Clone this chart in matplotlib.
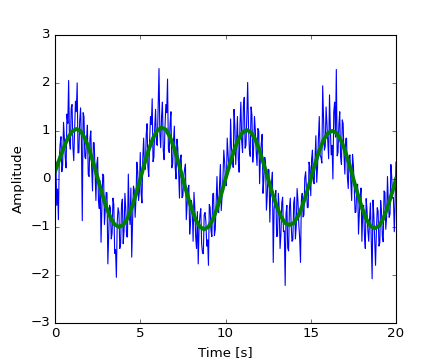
# noisy signal with filtered curve on top
import matplotlib
matplotlib.use("Agg")
import matplotlib.pyplot as plt
import numpy as np

plt.style.use("classic")

# raw samples, one every 0.05 s from 0 to 20 s
t_raw = np.arange(401) * 0.05
raw = [
    0.35, 0.36, -0.55, -0.21, -0.85, 0.41, 0.72, 0.88, 0.15, 0.29,
    1.18, 0.84, 0.45, 0.23, 1.35, 1.16, 2.05, 0.78, 0.62, 1.48,
    1.55, 0.67, 0.38, 1.04, 1.62, 1.40, 2.0, 0.54, 0.55, 1.22,
    1.48, 0.78, -0.87, 1.38, 1.3, 0.46, 0.42, 0.83, 1.12, 0.09,
    0.05, 0.84, 1.0, 0.23, -0.25, 0.76, 0.75, 0.14, -0.45, 0.31,
    0.45, -0.46, -0.62, -0.04, -1.32, -0.61, 0.1, 0.07, -0.95, -0.64,
    -0.28, -0.29, -1.77, -1.18, -0.55, -0.61, -1.25, -1.13, -0.4, -0.53,
    -1.55, -1.47, -2.05, -0.89, -0.6, -0.70, -1.45, -1.34, -0.55, -0.42,
    -1.35, -1.08, -0.3, -0.63, -1.2, -1.21, 0.1, -0.68, -0.95, -0.19,
    -1.63, -0.84, -0.15, -0.23, -0.8, -0.41, 0.35, 0.16, -0.45, -0.26,
    0.55, -0.29, -0.5, 0.44, 0.85, 0.21, 0.2, 0.93, 1.15, 0.24,
    0.05, 0.79, 1.3, 1.13, 1.67, 0.36, 0.45, 1.08, 1.45, 0.73,
    0.7, 1.52, 2.3, 0.94, 0.65, 1.30, 1.6, 0.59, 0.4, 1.07,
    1.55, 1.38, 2.08, 0.63, 0.55, 1.16, 1.4, 0.23, 0.3, 0.79,
    1.1, 0.24, 0.0, 0.83, 0.65, 0.16, -0.4, 0.44, 0.5, -0.39,
    -0.35, 0.04, 0.2, 0.31, -0.85, -0.51, -0.2, -0.13, -1.15, -0.89,
    -0.45, -0.59, -1.3, -0.28, -0.6, -1.21, -1.45, -0.68, -1.77, -1.03,
    -0.75, -0.62, -1.35, -1.54, -1.56, -0.75, -0.7, -0.89, -1.4, -1.27,
    -1.8, -0.53, -0.6, -1.08, -1.2, -0.31, -0.3, -1.18, -1.05, -0.49,
    0.05, -0.59, -0.7, -0.13, 0.3, -0.66, -0.35, 0.01, 0.6, 0.34,
    -0.1, -0.14, 0.85, 0.54, 0.2, 0.21, 1.25, 0.63, 0.5, 0.24,
    1.45, 1.09, 0.3, 0.78, 1.3, 0.41, 0.14, 1.13, 1.6, 0.78,
    0.55, 1.52, 1.7, 0.64, 0.7, 1.30, 2.01, 1.09, 0.6, 0.47,
    1.5, 1.33, 0.35, 0.63, 1.3, 1.01, 0.55, 0.28, 1.05, 0.99,
    -0.1, 0.44, 0.75, 0.93, -0.3, 0.01, 0.45, 0.34, -0.65, -0.34,
    0.2, 0.19, -0.9, -0.24, -0.1, 0.14, -1.74, -0.63, -0.45, -0.24,
    -1.2, -1.19, -0.3, -0.63, -1.45, -1.16, -0.5, -0.38, -1.1, -1.08,
    -2.22, -0.72, -0.55, -1.44, -1.5, -0.60, -0.4, -0.94, -1.3, -1.27,
    -0.5, -0.38, -1.25, -0.98, -0.2, -0.46, -0.95, -1.23, -1.74, -0.44,
    -0.3, -0.79, -0.75, 0.02, 0.15, -0.21, -0.6, -0.59, 0.35, 0.24,
    -0.35, 0.41, 0.6, -0.06, -0.1, 0.41, 0.9, -0.07, 0.25, 0.84,
    1.3, 0.49, 0.45, 0.33, 1.94, 1.26, 0.6, 0.68, 1.5, 1.13,
    0.8, 0.42, 1.75, 1.04, 0.5, 0.70, 0.0, 1.39, 1.6, 0.87,
    2.28, 0.48, 0.55, 1.13, 1.4, 0.46, 0.3, 1.23, 1.15, 0.49,
    0.1, 0.84, 0.85, 0.03, -0.2, 0.46, 0.5, -0.06, -0.45, 0.51,
    0.3, -0.16, -0.7, -0.69, -0.15, -0.11, -1.15, -0.73, -0.4, -0.19,
    -1.3, -0.69, -0.55, -1.18, -1.45, -0.41, -0.65, -1.08, -1.3, -0.83,
    -0.5, -1.32, -2.08, -0.44, -0.75, -1.25, -1.8, -1.09, -0.6, -0.67,
    -1.4, -1.33, -0.45, -0.68, -1.2, -1.31, -0.25, -0.28, -1.05, -0.79,
    0.05, -0.49, -0.8, -0.73, 0.3, 0.04, -0.4, -0.39, -1.1, -0.46,
    0.35,
]

# filtered curve, one reading every 0.25 s
t_filt = np.arange(81) * 0.25
filt = [
    0.15, 0.40, 0.64, 0.85, 0.99, 1.04, 1.00, 0.85, 0.62, 0.33,
    0.02, -0.30, -0.58, -0.80, -0.95, -1.00, -0.96, -0.82, -0.60, -0.32,
    0.0, 0.32, 0.61, 0.85, 1.01, 1.07, 1.03, 0.87, 0.63, 0.33,
    0.0, -0.32, -0.61, -0.85, -1.00, -1.05, -1.00, -0.85, -0.62, -0.32,
    0.0, 0.31, 0.59, 0.82, 0.97, 1.02, 0.97, 0.82, 0.59, 0.30,
    0.0, -0.30, -0.57, -0.78, -0.92, -0.96, -0.92, -0.78, -0.57, -0.30,
    0.0, 0.31, 0.59, 0.81, 0.95, 1.00, 0.96, 0.82, 0.60, 0.32,
    0.0, -0.31, -0.60, -0.83, -0.98, -1.03, -0.98, -0.83, -0.60, -0.31,
    0.0,
]

fig = plt.figure(figsize=(5.5, 4.5), dpi=80, facecolor="white")
ax = fig.add_axes([0.125, 0.103, 0.775, 0.8])
ax.plot(t_raw, raw, "b-", linewidth=1)
ax.plot(t_filt, filt, "g-", linewidth=3.5)
ax.set_xlim(0, 20)
ax.set_ylim(-3, 3)
ax.set_xlabel("Time [s]")
ax.set_ylabel("Amplitude")
fig.savefig("out.png", dpi=80, facecolor="white")
